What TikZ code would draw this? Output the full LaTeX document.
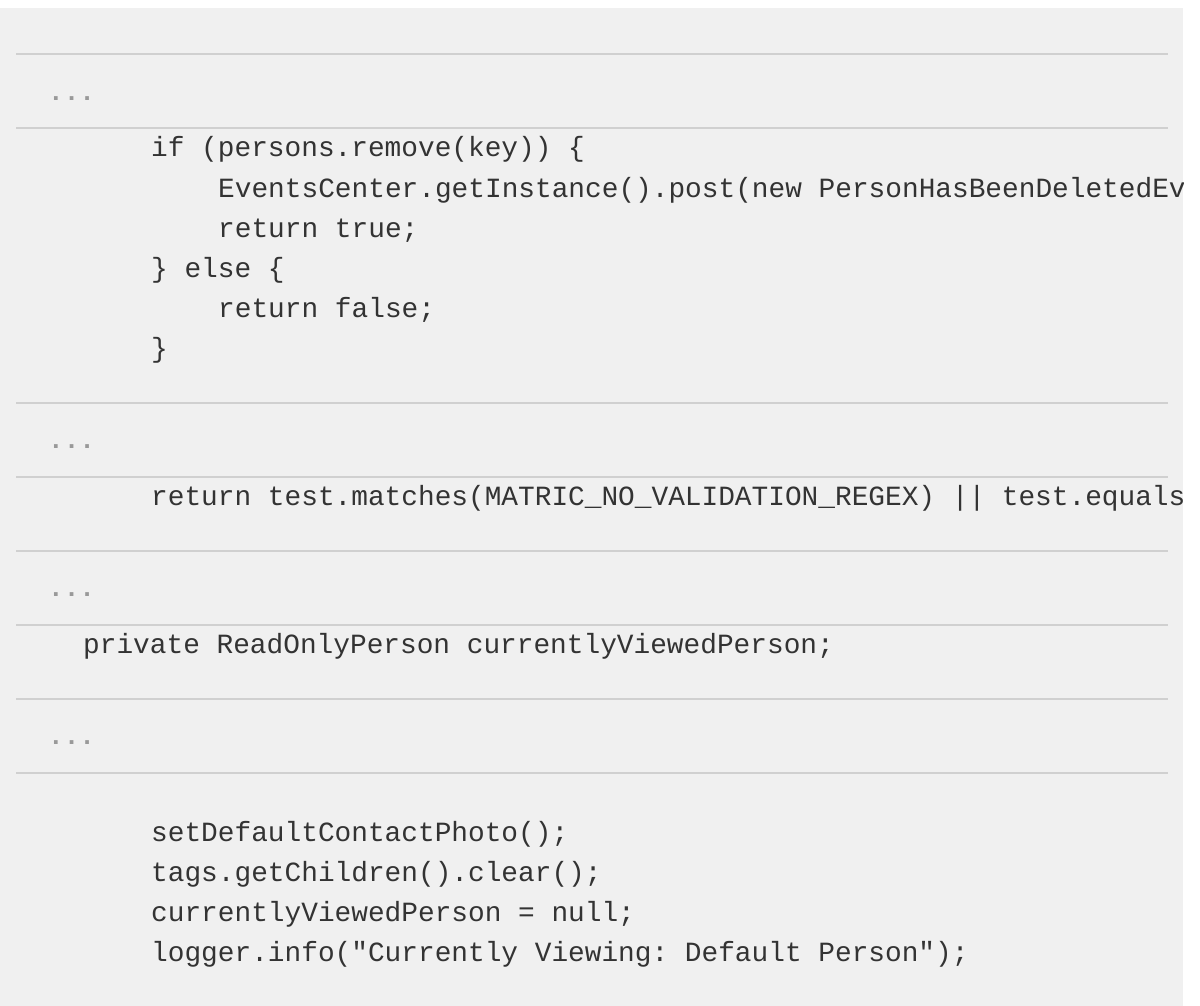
\documentclass[tikz,border=0pt]{standalone}
\usepackage{fontspec}
\setmonofont{Liberation Mono}
\definecolor{bg}{HTML}{F0F0F0}
\definecolor{rule}{HTML}{D0D0D0}
\definecolor{txt}{HTML}{333333}
\definecolor{dots}{HTML}{999999}
\begin{document}
\begin{tikzpicture}[x=1pt,y=-1pt,
  code/.style={anchor=base west,inner sep=0pt,text=txt,font=\ttfamily\fontsize{27.8}{30}\selectfont},
  dotline/.style={anchor=base west,inner sep=0pt,text=dots,font=\ttfamily\bfseries\fontsize{26}{28}\selectfont},
  sep/.style={draw=rule,line width=1.5pt}]
\useasboundingbox (0,0) rectangle (1200,1006);
\fill[bg] (0,8) rectangle (1183,1006);
\foreach \y/\n in {54/a,128/b,403/c,477/d,551/e,625/f,699/g,773/h}
  \draw[sep] (16,\y) coordinate (l\n) -- (1168,\y) coordinate (r\n);
\begin{scope}
\clip (0,8) rectangle (1183,1006);
\node[dotline] (d1) at (48,101) {...};
\node[dotline] (d2) at (48,448) {...};
\node[dotline] (d3) at (48,596) {...};
\node[dotline] (d4) at (48,744) {...};
\node[code] (c1) at (151,157) {if (persons.remove(key)) \{};
\node[code] (c2) at (218,197) {EventsCenter.getInstance().post(new PersonHasBeenDeletedEvent};
\node[code] (c3) at (218,237) {return true;};
\node[code] (c4) at (151,277) {\} else \{};
\node[code] (c5) at (218,317) {return false;};
\node[code] (c6) at (151,357) {\}};
\node[code] (c7) at (151,505) {return test.matches(MATRIC\_NO\_VALIDATION\_REGEX) || test.equals};
\node[code] (c8) at (83,653) {private ReadOnlyPerson currentlyViewedPerson;};
\node[code] (c9) at (151,841) {setDefaultContactPhoto();};
\node[code] (c10) at (151,881) {tags.getChildren().clear();};
\node[code] (c11) at (151,921) {currentlyViewedPerson = null;};
\node[code] (c12) at (151,961) {logger.info("Currently Viewing: Default Person");};
\end{scope}
\end{tikzpicture}
\end{document}
